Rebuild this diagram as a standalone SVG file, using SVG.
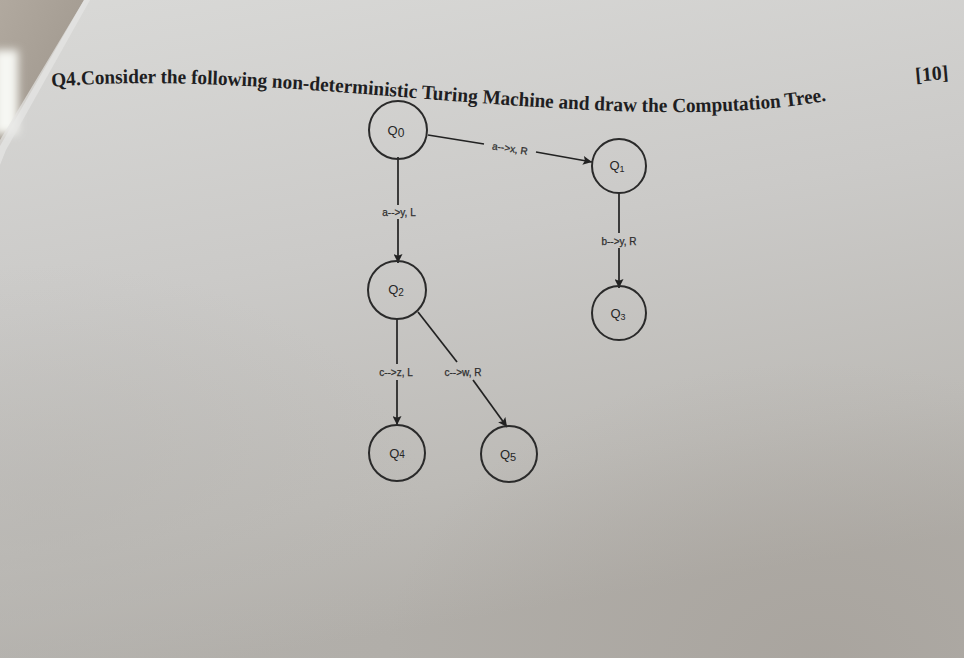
<svg xmlns="http://www.w3.org/2000/svg" width="964" height="658" viewBox="0 0 964 658">
  <defs>
    <linearGradient id="paper" x1="0" y1="0" x2="0.25" y2="1">
      <stop offset="0" stop-color="#d9d9d7"/>
      <stop offset="0.45" stop-color="#cbcac8"/>
      <stop offset="0.8" stop-color="#bdbbb7"/>
      <stop offset="1" stop-color="#b1aea9"/>
    </linearGradient>
    <radialGradient id="shadeBR" cx="0.85" cy="1" r="0.45">
      <stop offset="0" stop-color="#a19b94" stop-opacity="0.5"/>
      <stop offset="1" stop-color="#a19b94" stop-opacity="0"/>
    </radialGradient>
    <radialGradient id="shadeBL" cx="0.05" cy="0.8" r="0.4">
      <stop offset="0" stop-color="#b6b4b0" stop-opacity="0.5"/>
      <stop offset="1" stop-color="#b6b4b0" stop-opacity="0"/>
    </radialGradient>
    <linearGradient id="table" x1="0" y1="0" x2="1" y2="1">
      <stop offset="0" stop-color="#b1a99f"/>
      <stop offset="1" stop-color="#9b9389"/>
    </linearGradient>
    <filter id="blur" x="-50%" y="-50%" width="200%" height="200%">
      <feGaussianBlur stdDeviation="4"/>
    </filter>
    <marker id="arrow" viewBox="0 0 10 10" refX="10" refY="5" markerWidth="10" markerHeight="9" markerUnits="userSpaceOnUse" orient="auto">
      <path d="M0,0 L10,5 L0,10 L2,5 z" fill="#222"/>
    </marker>
    <path id="titlePath" d="M52,87 C280,66 620,140 830,100"/>
    <style>
      .node circle { fill: none; stroke: #2a2a2a; stroke-width: 2; }
      .node text { font-family: "Liberation Sans", Arial, sans-serif; font-size: 13px; fill: #262626; text-anchor: middle; }
      .edge { stroke: #222; stroke-width: 1.7; fill: none; }
      .lbl { font-family: "Liberation Sans", Arial, sans-serif; font-size: 10px; fill: #2e2e2e; text-anchor: middle; stroke: #2e2e2e; stroke-width: 0.25; }
      .title { font-family: "Liberation Serif", "Times New Roman", serif; font-weight: bold; font-size: 20px; fill: #1e1e22; }
    </style>
  </defs>

  <!-- photographed background -->
  <rect x="0" y="0" width="964" height="658" fill="url(#paper)"/>
  <rect x="0" y="0" width="964" height="658" fill="url(#shadeBR)"/>
  <rect x="0" y="0" width="964" height="658" fill="url(#shadeBL)"/>
  <polygon points="0,0 84,0 0,146" fill="url(#table)"/>
  <rect x="-6" y="50" width="24" height="84" fill="#f6f7f3" filter="url(#blur)"/>
  <polygon points="0,140 84,0 90,0 6,150 0,165" fill="#e6e6e4" opacity="0.7"/>

  <!-- title -->
  <text class="title"><textPath href="#titlePath" textLength="776" lengthAdjust="spacingAndGlyphs">Q4.Consider the following non-deterministic Turing Machine and draw the Computation Tree.</textPath></text>
  <text class="title" x="915" y="80" font-size="18" transform="rotate(-5 935 72)">[10]</text>

  <!-- connectors -->
  <g id="connectors">
    <path class="edge" d="M428,135 L484,144"/>
    <path class="edge" d="M536,152 L592,162" marker-end="url(#arrow)"/>
    <text class="lbl" x="510" y="152" transform="rotate(9 510 149)">a--&gt;x, R</text>

    <path class="edge" d="M398,157 L398,205"/>
    <path class="edge" d="M398,219 L398,263" marker-end="url(#arrow)"/>
    <text class="lbl" x="399" y="216">a--&gt;y, L</text>

    <path class="edge" d="M619,193 L619,233"/>
    <path class="edge" d="M619,248 L619,288" marker-end="url(#arrow)"/>
    <text class="lbl" x="619" y="245">b--&gt;y, R</text>

    <path class="edge" d="M397,318 L397,364"/>
    <path class="edge" d="M397,380 L397,425" marker-end="url(#arrow)"/>
    <text class="lbl" x="396" y="376">c--&gt;z, L</text>

    <path class="edge" d="M418,312 L457,362"/>
    <path class="edge" d="M473,380 L507,427" marker-end="url(#arrow)"/>
    <text class="lbl" x="463" y="376">c--&gt;w, R</text>
  </g>

  <!-- nodes -->
  <g id="Q0" class="node">
    <circle cx="398" cy="130" r="29"/>
    <text x="396" y="135">Q<tspan font-size="12" dy="2">0</tspan></text>
  </g>
  <g id="Q1" class="node">
    <circle cx="619" cy="166" r="27"/>
    <text x="617" y="170">Q<tspan font-size="9" dy="2">1</tspan></text>
  </g>
  <g id="Q2" class="node">
    <circle cx="397" cy="290" r="29"/>
    <text x="396" y="294">Q<tspan font-size="10" dy="2">2</tspan></text>
  </g>
  <g id="Q3" class="node">
    <circle cx="619" cy="313" r="27"/>
    <text x="618" y="318">Q<tspan font-size="9" dy="2">3</tspan></text>
  </g>
  <g id="Q4" class="node">
    <circle cx="397" cy="453" r="28"/>
    <text x="397" y="458">Q<tspan font-size="10">4</tspan></text>
  </g>
  <g id="Q5" class="node">
    <circle cx="509" cy="454" r="28"/>
    <text x="508" y="459">Q<tspan font-size="11" dy="2">5</tspan></text>
  </g>
</svg>
